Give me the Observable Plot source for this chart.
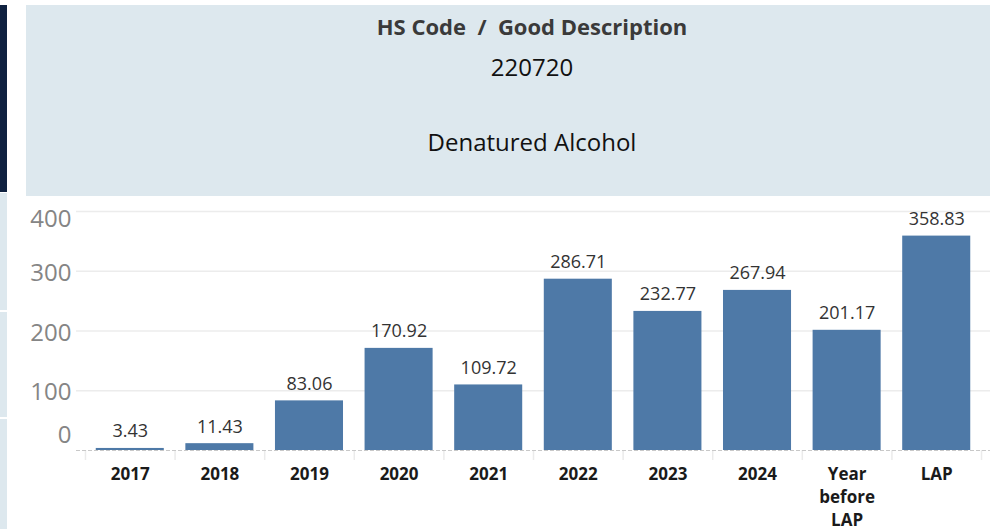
<!DOCTYPE html>
<html>
<head>
<meta charset="utf-8">
<script src="https://cdn.jsdelivr.net/npm/d3@7"></script>
<script src="https://cdn.jsdelivr.net/npm/@observablehq/plot@0.6"></script>
<style>
  html, body { margin: 0; padding: 0; background: #ffffff; }
  #page { position: relative; width: 990px; height: 529px; overflow: hidden; font-family: "Open Sans", sans-serif; }
  .strip { position: absolute; left: 0; width: 7px; }
  #header { position: absolute; left: 26px; top: 5px; width: 964px; height: 191px; background: #dde8ee; }
  .hline { position: absolute; left: 332px; width: 400px; text-align: center; white-space: nowrap; line-height: 1; }
  #t1 { top: 15px; font-size: 22px; font-weight: bold; color: #3a3a3a; }
  #t2 { top: 55px; font-size: 24px; color: #111; }
  #t3 { top: 130px; font-size: 24px; color: #111; }
  #chart { position: absolute; left: 0; top: 196px; }
</style>
</head>
<body>
<div id="page">
  <div class="strip" style="top:5px;height:187px;background:#0f2140;"></div>
  <div class="strip" style="top:193px;height:117px;background:#dde8ee;"></div>
  <div class="strip" style="top:312px;height:105px;background:#dde8ee;"></div>
  <div class="strip" style="top:419px;height:110px;background:#dde8ee;"></div>
  <div id="header"></div>
  <div class="hline" id="t1">HS Code&nbsp;&nbsp;/&nbsp;&nbsp;Good Description</div>
  <div class="hline" id="t2">220720</div>
  <div class="hline" id="t3">Denatured Alcohol</div>
  <div id="chart"></div>
</div>
<script>
const categories = ["2017", "2018", "2019", "2020", "2021", "2022", "2023", "2024", "Year before LAP", "LAP"];
const values = [3.43, 11.43, 83.06, 170.92, 109.72, 286.71, 232.77, 267.94, 201.17, 358.83];
const tickLabels = ["2017", "2018", "2019", "2020", "2021", "2022", "2023", "2024", "Year\nbefore\nLAP", "LAP"];
const gridTicks = [100, 200, 300, 400];

const data = categories.map((c, i) => ({category: c, value: values[i], label: values[i].toFixed(2)}));
const lastCategory = [categories[categories.length - 1]];

const yAxisStyle = {tickSize: 0, tickPadding: 14, fontSize: 24, color: "#858585", label: null};
const halfStep = 44.8;

const chart = Plot.plot({
  width: 990,
  height: 333,
  marginLeft: 85,
  marginRight: 9,
  marginTop: 15,
  marginBottom: 79,
  style: {fontFamily: "'Open Sans', sans-serif", background: "transparent", overflow: "visible"},
  x: {domain: categories, paddingInner: 0.2407, paddingOuter: 0.12, round: false, axis: null},
  y: {domain: [0, 400], axis: null, label: null},
  marks: [
    Plot.ruleY(gridTicks, {stroke: "#ececec", strokeWidth: 1.5, insetLeft: -9, insetRight: -9}),
    Plot.ruleX(categories, {x: d => d, y1: 0, y2: 0, insetBottom: -10, dx: -halfStep, stroke: "#ebebeb", strokeWidth: 1.5}),
    Plot.ruleX(lastCategory, {x: d => d, y1: 0, y2: 0, insetBottom: -10, dx: halfStep, stroke: "#ebebeb", strokeWidth: 1.5}),
    Plot.barY(data, {x: "category", y: "value", fill: "#4e79a7"}),
    Plot.ruleY([0], {stroke: "#c8c8c8", strokeDasharray: "4,2", insetLeft: -9, insetRight: -9}),
    Plot.text(data, {x: "category", y: "value", text: "label", lineAnchor: "bottom", dy: -11, fontSize: 18, fill: "#333"}),
    Plot.axisX({tickSize: 0, tickPadding: 13, fontSize: 17, fontWeight: "bold", color: "#1a1a1a", label: null, lineHeight: 1.36,
      tickFormat: d => tickLabels[categories.indexOf(d)]}),
    Plot.axisY([100, 200, 300], {...yAxisStyle, dy: 2}),
    Plot.axisY([400], {...yAxisStyle, dy: 8}),
    Plot.axisY([0], {...yAxisStyle, dy: -15})
  ]
});
document.getElementById("chart").appendChild(chart);
</script>
</body>
</html>
